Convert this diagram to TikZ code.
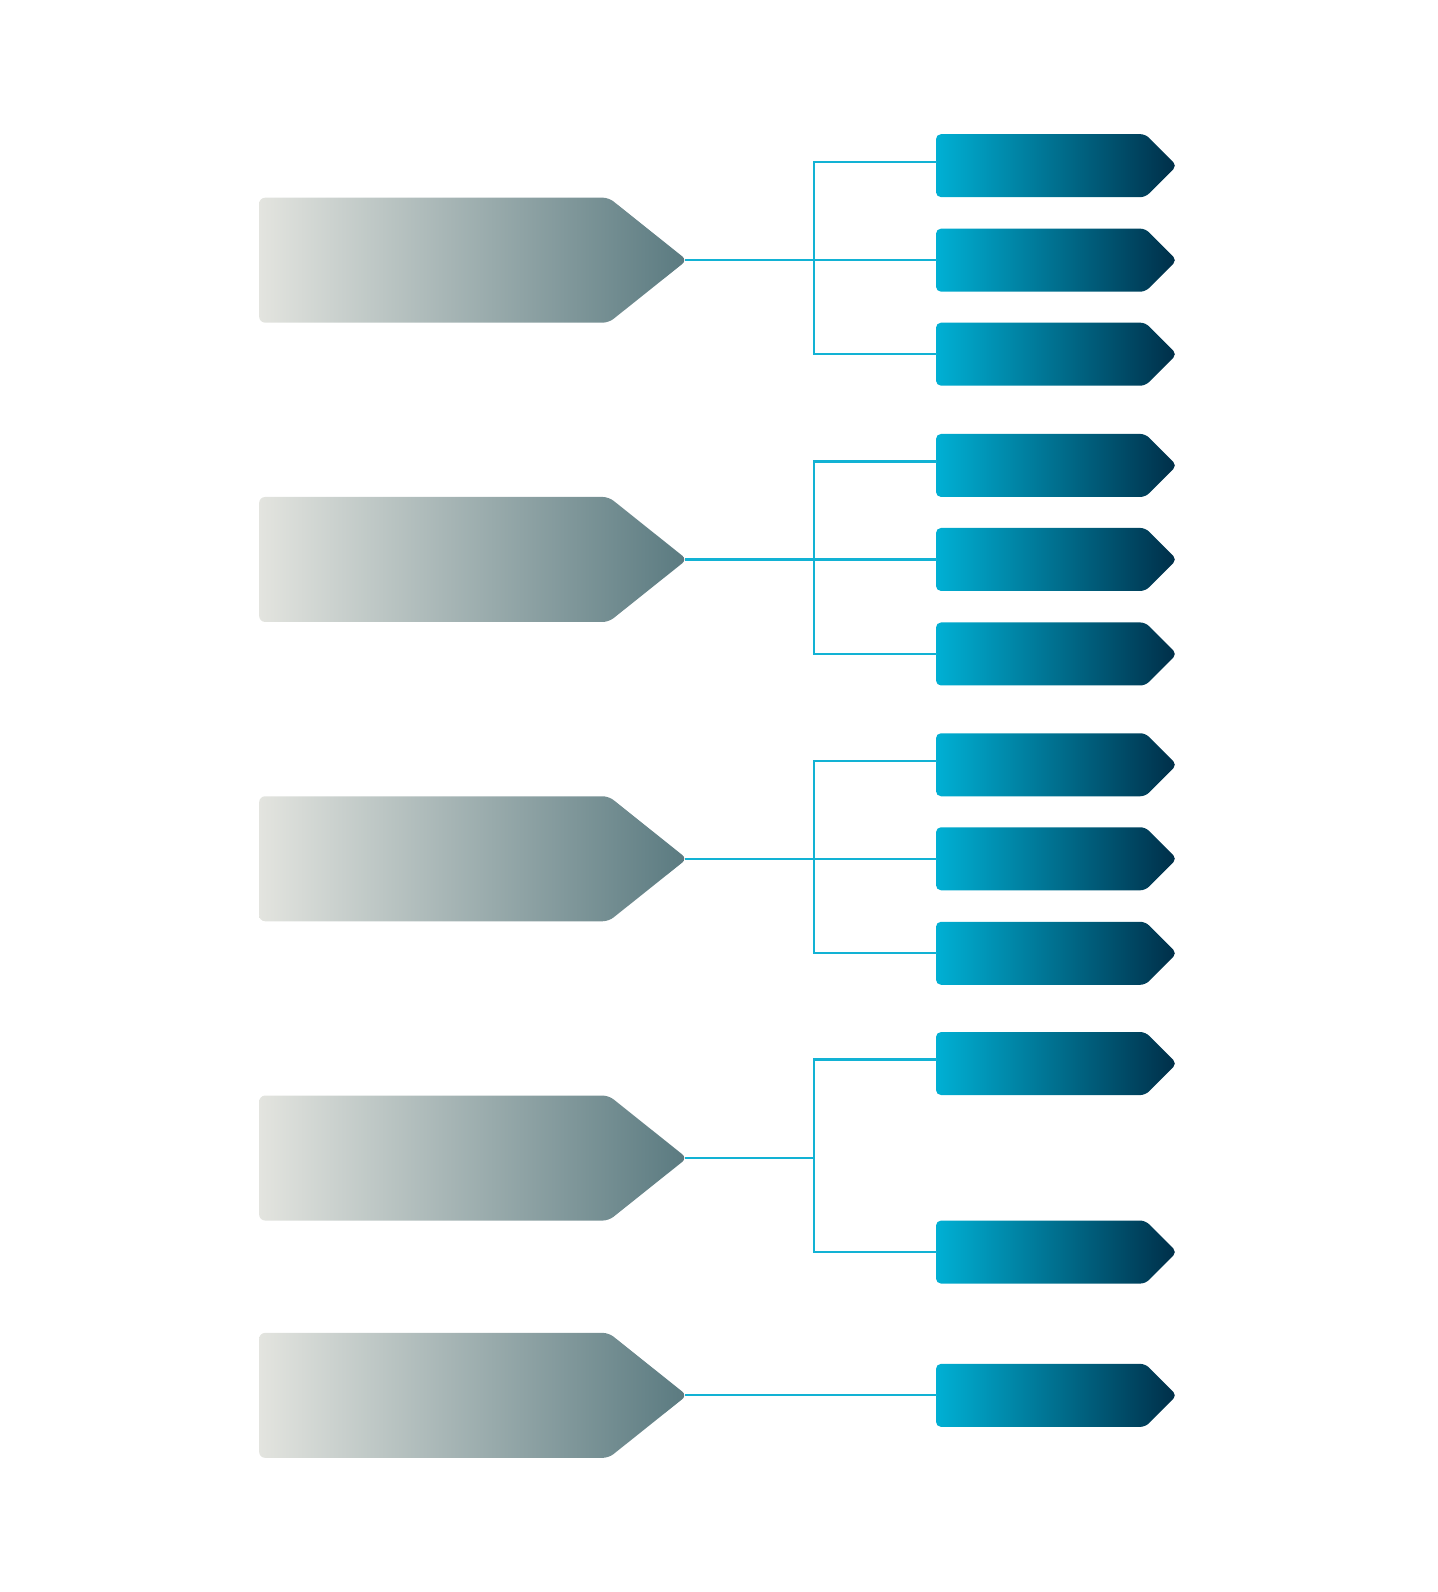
\documentclass[tikz,border=0pt]{standalone}
\usepackage{tikz}
\definecolor{bigL}{HTML}{E3E4DF}
\definecolor{bigR}{HTML}{5A7A80}
\definecolor{smL}{HTML}{00B0D4}
\definecolor{smR}{HTML}{002E48}
\definecolor{linkc}{HTML}{12B2D4}
\tikzset{
  bigfill/.style={left color=bigL, right color=bigR, rounded corners=6pt},
  smfill/.style={left color=smL, right color=smR, rounded corners=5pt},
  link/.style={draw=linkc, line width=2.2pt}
}
\newcommand\bigshape[2]{%
  \shade[bigfill] (255,#1-61.5) -- (599,#1-61.5) -- (676,#1) -- (599,#1+61.5) -- (255,#1+61.5) -- cycle;
  \coordinate (#2) at (674,#1);}
\newcommand\smshape[2]{%
  \shade[smfill] (921,#1-31) -- (1127,#1-31) -- (1158,#1) -- (1127,#1+31) -- (921,#1+31) -- cycle;
  \coordinate (#2) at (922,#1);}
\begin{document}
\begin{tikzpicture}[x=1.0163pt,y=-1.0163pt]
\useasboundingbox (0,0) rectangle (1414,1566.5);
% big shapes
\bigshape{256}{B1}
\bigshape{550.5}{B2}
\bigshape{845}{B3}
\bigshape{1139.5}{B4}
\bigshape{1373}{B5}
% small shapes
\smshape{163}{S11}
\smshape{256}{S12}
\smshape{348.5}{S13}
\smshape{458}{S21}
\smshape{550.5}{S22}
\smshape{643.5}{S23}
\smshape{752.5}{S31}
\smshape{845}{S32}
\smshape{938}{S33}
\smshape{1046.5}{S41}
\smshape{1232}{S43}
\smshape{1373}{S51}
% junctions
\foreach \b/\t/\m/\u in {B1/S11/S12/S13, B2/S21/S22/S23, B3/S31/S32/S33}{
  \draw[link] (\b) -- (\m);
  \draw[link] ([yshift=4pt]\t) -| (801,0 |- \u) -- (\u);
}
\coordinate (JB4) at (801,1139.5);
\draw[link] (B4) -- (JB4);
\draw[link] ([yshift=4pt]S41) -| (801,1232) -- (S43);
\draw[link] (B5) -- (S51);
\end{tikzpicture}
\end{document}
